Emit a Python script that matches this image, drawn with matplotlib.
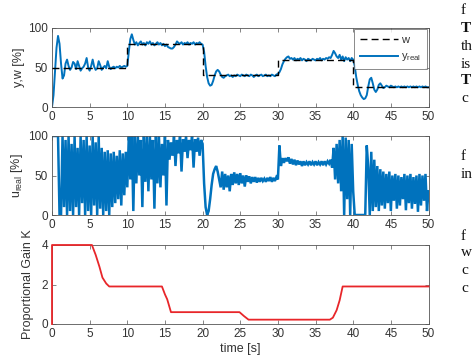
import numpy as np
import matplotlib
matplotlib.use("Agg")
import matplotlib.pyplot as plt

# ---------------- data ----------------
t_step = 0.2
# setpoint w
w_time = [0, 10, 10, 20, 20, 30, 30, 40, 40, 50]
w_vals = [50, 50, 80, 80, 40, 40, 60, 60, 25, 25]

# measured output y_real, sampled every 0.2 s from 0 to 50 s
y_real = [
    0, 15, 45, 75, 90, 80, 55, 36, 40, 55,
    60, 52, 47, 50, 57, 55, 48, 58, 52, 46,
    49, 51, 55, 62, 50, 46, 52, 60, 51, 47,
    49, 58, 53, 47, 50, 52, 49, 58, 51, 48,
    50, 51, 49, 51, 50, 52, 50, 51, 52, 51,
    52, 70, 86, 92, 85, 79, 82, 78, 81, 83,
    79, 81, 78, 82, 80, 83, 79, 81, 78, 80,
    82, 79, 81, 78, 80, 77, 79, 76, 75, 74,
    74, 76, 79, 83, 81, 80, 82, 79, 81, 80,
    82, 79, 81, 80, 82, 79, 81, 80, 82, 80,
    79, 70, 52, 38, 30, 27, 28, 33, 40, 45,
    47, 45, 41, 38, 37, 39, 40, 41, 39, 40,
    38, 40, 39, 41, 40, 39, 41, 40, 39, 41,
    40, 39, 41, 40, 38, 40, 41, 39, 40, 41,
    39, 40, 41, 39, 40, 39, 41, 40, 39, 41,
    42, 44, 48, 54, 58, 61, 63, 64, 61, 62,
    60, 62, 59, 61, 60, 62, 59, 61, 60, 58,
    61, 60, 59, 61, 60, 59, 61, 60, 62, 59,
    61, 60, 62, 61, 63, 62, 66, 71, 68, 64,
    62, 66, 60, 64, 58, 63, 60, 62, 58, 62,
    60, 52, 38, 28, 20, 15, 12, 10, 11, 15,
    26, 35, 37, 30, 22, 19, 22, 28, 30, 27,
    24, 25, 27, 26, 25, 27, 26, 25, 26, 25,
    26, 25, 26, 25, 26, 25, 26, 25, 26, 25,
    26, 25, 26, 25, 26, 25, 26, 25, 26, 25, 25,
]

# control signal u_real, sampled every 0.2 s from 0 to 50 s
u_real = [
    100, 100, 100, 100, 100, 0, 0, 100, 10, 95,
    0, 100, 5, 90, 0, 100, 10, 85, 0, 100,
    15, 95, 0, 100, 5, 88, 0, 100, 12, 92,
    0, 100, 8, 85, 0, 80, 5, 82, 0, 78,
    10, 80, 15, 75, 20, 82, 12, 78, 25, 80,
    35, 100, 45, 100, 5, 100, 40, 100, 50, 95,
    10, 100, 42, 100, 30, 100, 45, 95, 8, 100,
    40, 100, 35, 90, 50, 100, 12, 95, 70, 92,
    75, 100, 62, 95, 78, 100, 55, 96, 80, 100,
    72, 95, 82, 100, 60, 96, 80, 98, 75, 95,
    90, 40, 10, 0, 5, 20, 38, 52, 58, 62,
    55, 45, 35, 55, 32, 52, 35, 50, 30, 52,
    38, 54, 40, 52, 38, 53, 40, 50, 36, 50,
    42, 49, 40, 48, 42, 48, 41, 47, 42, 47,
    43, 46, 42, 47, 43, 48, 42, 47, 43, 48,
    45, 88, 62, 72, 66, 72, 68, 73, 65, 71,
    64, 70, 63, 69, 64, 68, 62, 68, 63, 67,
    64, 68, 63, 67, 64, 68, 63, 67, 64, 68,
    63, 68, 64, 68, 65, 70, 60, 85, 45, 90,
    40, 95, 30, 100, 0, 98, 20, 95, 0, 90,
    30, 0, 0, 0, 0, 0, 0, 0, 0, 88,
    60, 0, 80, 5, 70, 10, 62, 5, 58, 12,
    55, 8, 52, 15, 55, 5, 50, 18, 52, 8,
    50, 12, 48, 20, 52, 6, 50, 15, 52, 8,
    48, 14, 50, 4, 52, 12, 50, 18, 52, 5, 30,
]

# proportional gain K (breakpoints)
k_time = [0, 0, 5.3, 5.8, 6.3, 6.7, 7.2, 7.6, 14.6, 15.0, 15.3, 15.8,
          24.9, 25.5, 26.1, 36.9, 37.3, 37.8, 38.2, 38.6, 50]
k_vals = [0, 4, 4, 3.5, 2.9, 2.35, 2.05, 1.9, 1.9, 1.5, 1.25, 0.6,
          0.6, 0.4, 0.22, 0.22, 0.32, 0.7, 1.2, 1.9, 1.9]

x_ticks = [0, 5, 10, 15, 20, 25, 30, 35, 40, 45, 50]

# ---------------- figure ----------------
plt.rcParams['font.family'] = ['Liberation Sans', 'DejaVu Sans']
plt.rcParams['mathtext.fontset'] = 'custom'
plt.rcParams['mathtext.rm'] = 'Liberation Sans'
plt.rcParams['mathtext.it'] = 'Liberation Sans'

TXT = '#333333'
EDGE = '#555555'
BLUE = '#0072BD'
RED = '#E8262A'

fig = plt.figure(figsize=(4.74, 3.64), dpi=100)
left, width, height = 52 / 474, 376.5 / 474, 79 / 364
bottoms = [1 - 107 / 364, 1 - 215 / 364, 1 - 324 / 364]
axes = [fig.add_axes([left, b, width, height]) for b in bottoms]

t_y = np.arange(len(y_real)) * t_step
t_u = np.arange(len(u_real)) * t_step

ax1, ax2, ax3 = axes
ax1.plot(w_time, w_vals, color='black', lw=1.0, ls=(0, (5, 3)), label='w', zorder=3)
ax1.plot(t_y, y_real, color=BLUE, lw=1.4, label='y$_{\\rm real}$', zorder=2)
ax1.set_ylim(0, 100)
ax1.set_yticks([0, 50, 100])
ax1.set_ylabel('y,w [%]', color=TXT, fontsize=9, labelpad=2)
leg = ax1.legend(loc='upper right', fontsize=8, frameon=True, fancybox=False,
                 edgecolor=EDGE, handlelength=3.4, borderpad=0.5,
                 labelspacing=0.6, handletextpad=0.3, borderaxespad=0,
                 bbox_to_anchor=(0.995, 0.985))
leg.get_frame().set_linewidth(0.6)
for tx in leg.get_texts():
    tx.set_color(TXT)

ax2.plot(t_u, u_real, color=BLUE, lw=1.8, solid_joinstyle='miter')
ax2.set_ylim(0, 100)
ax2.set_yticks([0, 50, 100])
ax2.set_ylabel('u$_{\\rm real}$ [%]', color=TXT, fontsize=9, labelpad=2)

ax3.plot(k_time, k_vals, color=RED, lw=1.3, clip_on=False, zorder=3)
ax3.set_ylim(0, 4)
ax3.set_yticks([0, 2, 4])
ax3.set_ylabel('Proportional Gain K', color=TXT, fontsize=9, labelpad=5)
ax3.set_xlabel('time [s]', color=TXT, fontsize=9, labelpad=2)

for ax in axes:
    ax.set_xlim(0, 50)
    ax.set_xticks(x_ticks)
    ax.tick_params(direction='in', top=True, right=True, length=3, width=0.5,
                   labelsize=8.5, colors=EDGE, labelcolor=TXT, pad=3)
    for sp in ax.spines.values():
        sp.set_color(EDGE)
        sp.set_linewidth(0.6)

# cut-off page text at the right edge
side_text = [("f", 11, 'normal'), ("T", 29, 'bold'), ("th", 46, 'normal'),
             ("is", 64, 'normal'), ("T", 81, 'bold'), ("c", 99, 'normal'),
             ("f", 157, 'normal'), ("in", 174, 'normal'), ("f", 236, 'normal'),
             ("w", 253, 'normal'), ("c", 271, 'normal'), ("c", 288, 'normal')]
for s, yp, wt in side_text:
    fig.text(461 / 474, 1 - yp / 364, s, fontsize=11, fontweight=wt,
             family=['Liberation Serif', 'DejaVu Serif'], color='#111111',
             va='center', ha='left')

fig.savefig('out.png', dpi=100)
